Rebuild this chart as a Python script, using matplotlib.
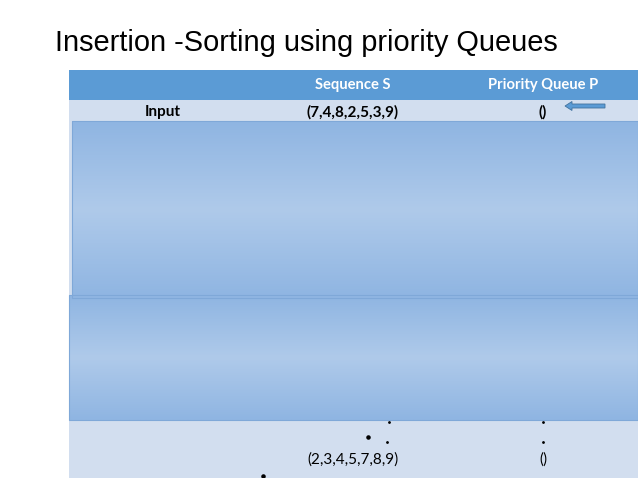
import numpy as np
import matplotlib.pyplot as plt
from matplotlib.patches import Rectangle, FancyArrow

title = "Insertion -Sorting using priority Queues"
headers = ["", "Sequence S", "Priority Queue P"]
first_row = ["Input", "(7,4,8,2,5,3,9)", "()"]
last_row = ["", "(2,3,4,5,7,8,9)", "()"]
col_x = [163, 353, 543]

fig = plt.figure(figsize=(6.38, 4.78), dpi=100)
ax = fig.add_axes([0, 0, 1, 1])
ax.set_xlim(0, 638)
ax.set_ylim(478, 0)
ax.axis("off")

fnt = ["Lato", "DejaVu Sans"]

# table background
ax.add_patch(Rectangle((69, 100), 569, 378, color="#d2deef", lw=0))
ax.add_patch(Rectangle((69, 70), 569, 30, color="#5b9bd5", lw=0))

# gradient boxes
def grad_box(x0, y0, w, h):
    g = np.linspace(0, 1, 100)
    g = 1 - np.abs(g - 0.5) * 2
    c0 = np.array([0x8f, 0xb5, 0xe2]) / 255
    c1 = np.array([0xaf, 0xca, 0xea]) / 255
    img = c0[None, :] + g[:, None] * (c1 - c0)[None, :]
    img = np.repeat(img[:, None, :], 2, axis=1)
    ax.imshow(img, extent=(x0, x0 + w, y0 + h, y0), aspect="auto", zorder=2)
    ax.add_patch(Rectangle((x0, y0), w, h, fill=False, ec="#7fa8d8", lw=0.8, zorder=3))

grad_box(72, 121, 566, 177)
grad_box(69, 295, 569, 125)

for x, t in zip(col_x, headers):
    ax.text(x, 85, t, color="white", fontsize=10.6, fontweight="bold", ha="center", va="center", family=fnt)
for x, t in zip(col_x, first_row):
    ax.text(x, 112, t, color="black", fontsize=11, fontweight="bold", ha="center", va="center", family=fnt, zorder=1)
for x, t in zip(col_x, last_row):
    ax.text(x, 460, t, color="black", fontsize=11, ha="center", va="center", family=fnt)

ax.add_patch(FancyArrow(605, 106, -40, 0, width=4, head_width=9, head_length=7,
                        length_includes_head=True, fc="#5b9bd5", ec="#41719c", lw=0.6, zorder=1))

ax.plot([389, 387, 543, 543], [422, 442, 422, 442], "k.", ms=2)
ax.plot([368, 263], [437, 476], "k.", ms=4.5)

ax.text(55, 43, title, fontsize=20.9, ha="left", va="center", family=["Liberation Sans", "DejaVu Sans"])

fig.savefig("out.png", dpi=100)
